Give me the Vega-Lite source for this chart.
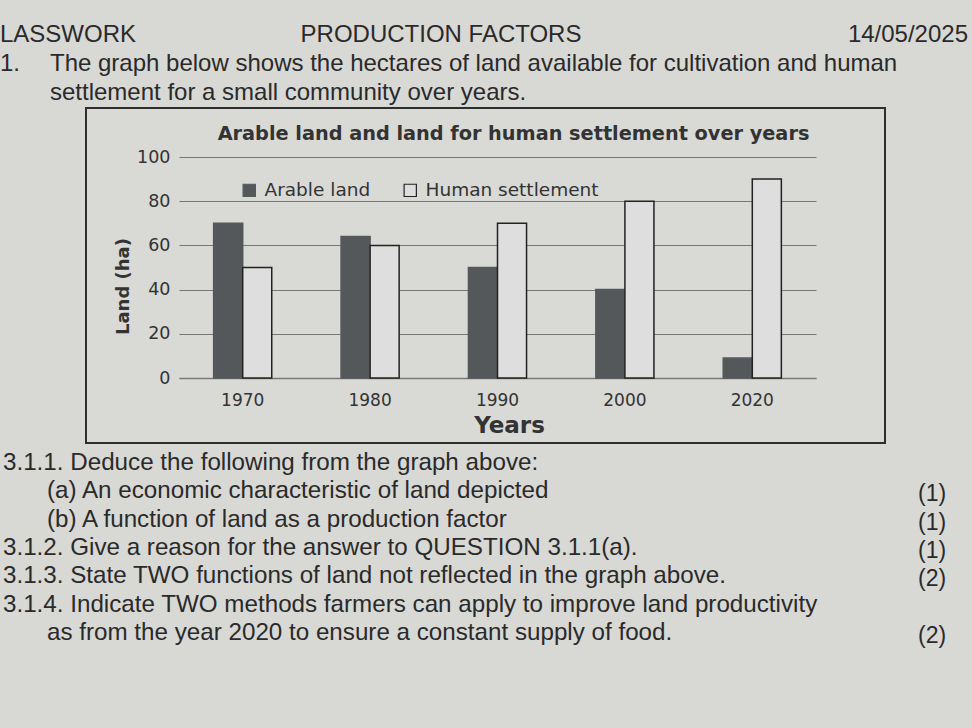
{
  "$schema": "https://vega.github.io/schema/vega-lite/v6.json",
  "background": "#d8d8d5",
  "padding": 0,
  "spacing": 0,
  "center": true,
  "config": {
    "view": {"stroke": null},
    "text": {"font": "Liberation Sans", "color": "#2a2a2a"}
  },
  "datasets": {
    "header": [
      {"line": "l1", "col": "edge", "text": "LASSWORK"},
      {"line": "l1", "col": "mid", "text": "PRODUCTION FACTORS"},
      {"line": "l1", "col": "right", "text": "14/05/2025"},
      {"line": "l2", "col": "edge", "text": "1."},
      {"line": "l2", "col": "indent", "text": "The graph below shows the hectares of land available for cultivation and human"},
      {"line": "l3", "col": "indent", "text": "settlement for a small community over years."}
    ],
    "land": [
      {"year": "1970", "series": "Arable land", "hectares": 70},
      {"year": "1970", "series": "Human settlement", "hectares": 50},
      {"year": "1980", "series": "Arable land", "hectares": 64},
      {"year": "1980", "series": "Human settlement", "hectares": 60},
      {"year": "1990", "series": "Arable land", "hectares": 50},
      {"year": "1990", "series": "Human settlement", "hectares": 70},
      {"year": "2000", "series": "Arable land", "hectares": 40},
      {"year": "2000", "series": "Human settlement", "hectares": 80},
      {"year": "2020", "series": "Arable land", "hectares": 9},
      {"year": "2020", "series": "Human settlement", "hectares": 90}
    ],
    "questions": [
      {"line": "q1", "col": "edge", "text": "3.1.1. Deduce the following from the graph above:"},
      {"line": "q2", "col": "indent", "text": "(a) An economic characteristic of land depicted"},
      {"line": "q2", "col": "mark", "text": "(1)"},
      {"line": "q3", "col": "indent", "text": "(b) A function of land as a production factor"},
      {"line": "q3", "col": "mark", "text": "(1)"},
      {"line": "q4", "col": "edge", "text": "3.1.2. Give a reason for the answer to QUESTION 3.1.1(a)."},
      {"line": "q4", "col": "mark", "text": "(1)"},
      {"line": "q5", "col": "edge", "text": "3.1.3. State TWO functions of land not reflected in the graph above."},
      {"line": "q5", "col": "mark", "text": "(2)"},
      {"line": "q6", "col": "edge", "text": "3.1.4. Indicate TWO methods farmers can apply to improve land productivity"},
      {"line": "q7", "col": "indent", "text": "as from the year 2020 to ensure a constant supply of food."},
      {"line": "q7", "col": "mark", "text": "(2)"}
    ]
  },
  "vconcat": [
    {
      "width": 972,
      "height": 107,
      "data": {"name": "header"},
      "encoding": {
        "y": {"field": "line", "type": "nominal", "axis": null,
              "scale": {"type": "point", "domain": ["l1", "l2", "l3"], "range": [35, 93], "padding": 0}},
        "text": {"field": "text"}
      },
      "layer": [
        {
          "transform": [{"filter": {"field": "col", "oneOf": ["edge", "indent"]}}],
          "mark": {"type": "text", "align": "left", "baseline": "middle", "fontSize": 24},
          "encoding": {"x": {"field": "col", "type": "nominal", "axis": null,
                             "scale": {"type": "point", "domain": ["edge", "indent"], "range": [0, 50], "padding": 0}}}
        },
        {
          "transform": [{"filter": {"field": "col", "equal": "mid"}}],
          "mark": {"type": "text", "align": "center", "baseline": "middle", "fontSize": 24},
          "encoding": {"x": {"field": "col", "type": "nominal", "axis": null,
                             "scale": {"type": "point", "domain": ["mid"], "range": [441, 441], "padding": 0}}}
        },
        {
          "transform": [{"filter": {"field": "col", "equal": "right"}}],
          "mark": {"type": "text", "align": "right", "baseline": "middle", "fontSize": 24},
          "encoding": {"x": {"field": "col", "type": "nominal", "axis": null,
                             "scale": {"type": "point", "domain": ["right"], "range": [968, 968], "padding": 0}}}
        }
      ],
      "resolve": {"scale": {"x": "independent"}}
    },
    {
      "width": 799,
      "height": 335,
      "view": {"stroke": "#2e2e2e", "strokeWidth": 2, "fill": "#d9d9d6"},
      "data": {"name": "land"},
      "title": {
        "text": "Arable land and land for human settlement over years",
        "font": "DejaVu Sans",
        "fontSize": 19.3,
        "fontWeight": "bold",
        "color": "#333333",
        "anchor": "middle",
        "frame": "group",
        "dx": 28,
        "offset": -36
      },
      "mark": {"type": "bar", "strokeWidth": 1.5},
      "encoding": {
        "x": {
          "field": "year", "type": "nominal",
          "scale": {"range": [93, 730], "paddingInner": 0.544, "paddingOuter": 0.272},
          "axis": {
            "title": "Years", "titleFont": "DejaVu Sans", "titleFontSize": 23, "titleFontWeight": "bold",
            "titleColor": "#333333", "titleX": 423, "titlePadding": 6,
            "labelFont": "DejaVu Sans", "labelFontSize": 17, "labelColor": "#333333", "labelAngle": 0,
            "labelPadding": 14, "ticks": false, "domainColor": "#7a7a7a", "domainWidth": 1.5,
            "offset": -65, "grid": false
          }
        },
        "xOffset": {"field": "series", "type": "nominal", "scale": {"paddingInner": 0, "paddingOuter": 0}},
        "y": {
          "field": "hectares", "type": "quantitative",
          "scale": {"domain": [0, 100], "range": [270, 49], "nice": false},
          "axis": {
            "title": "Land (ha)", "titleFont": "DejaVu Sans", "titleFontSize": 18, "titleFontWeight": "bold",
            "titleColor": "#333333", "titleY": 178, "titlePadding": 4,
            "labelFont": "DejaVu Sans", "labelFontSize": 17.5, "labelColor": "#333333",
            "labelPadding": 16, "ticks": false, "domain": false,
            "values": [0, 20, 40, 60, 80, 100],
            "gridColor": "#777777", "gridWidth": 1, "offset": -100
          }
        },
        "fill": {
          "field": "series", "type": "nominal",
          "scale": {"domain": ["Arable land", "Human settlement"], "range": ["#55585b", "#dedede"]},
          "legend": {
            "title": null, "orient": "none", "direction": "horizontal",
            "legendX": 240, "legendY": 181,
            "symbolType": "square", "symbolSize": 150, "symbolStrokeWidth": 1.2,
            "labelFont": "DejaVu Sans", "labelFontSize": 18.5, "labelColor": "#333333",
            "labelOffset": 6, "labelLimit": 400, "columnPadding": 30
          }
        },
        "stroke": {
          "field": "series", "type": "nominal",
          "scale": {"domain": ["Arable land", "Human settlement"], "range": ["#55585b", "#222222"]},
          "legend": {
            "title": null, "orient": "none", "direction": "horizontal",
            "legendX": 240, "legendY": 181,
            "symbolType": "square", "symbolSize": 150, "symbolStrokeWidth": 1.2,
            "labelFont": "DejaVu Sans", "labelFontSize": 18.5, "labelColor": "#333333",
            "labelOffset": 6, "labelLimit": 400, "columnPadding": 30
          }
        }
      }
    },
    {
      "width": 972,
      "height": 286,
      "data": {"name": "questions"},
      "encoding": {
        "y": {"field": "line", "type": "nominal", "axis": null,
              "scale": {"type": "point", "domain": ["q1", "q2", "q3", "q4", "q5", "q6", "q7"], "range": [19, 189], "padding": 0}},
        "text": {"field": "text"}
      },
      "layer": [
        {
          "transform": [{"filter": {"field": "col", "oneOf": ["edge", "indent"]}}],
          "mark": {"type": "text", "align": "left", "baseline": "middle", "fontSize": 24.2},
          "encoding": {"x": {"field": "col", "type": "nominal", "axis": null,
                             "scale": {"type": "point", "domain": ["edge", "indent"], "range": [3, 47], "padding": 0}}}
        },
        {
          "transform": [{"filter": {"field": "col", "equal": "mark"}}],
          "mark": {"type": "text", "align": "left", "baseline": "middle", "fontSize": 23, "dy": 3},
          "encoding": {"x": {"field": "col", "type": "nominal", "axis": null,
                             "scale": {"type": "point", "domain": ["mark"], "range": [918, 918], "padding": 0}}}
        }
      ],
      "resolve": {"scale": {"x": "independent"}}
    }
  ]
}
